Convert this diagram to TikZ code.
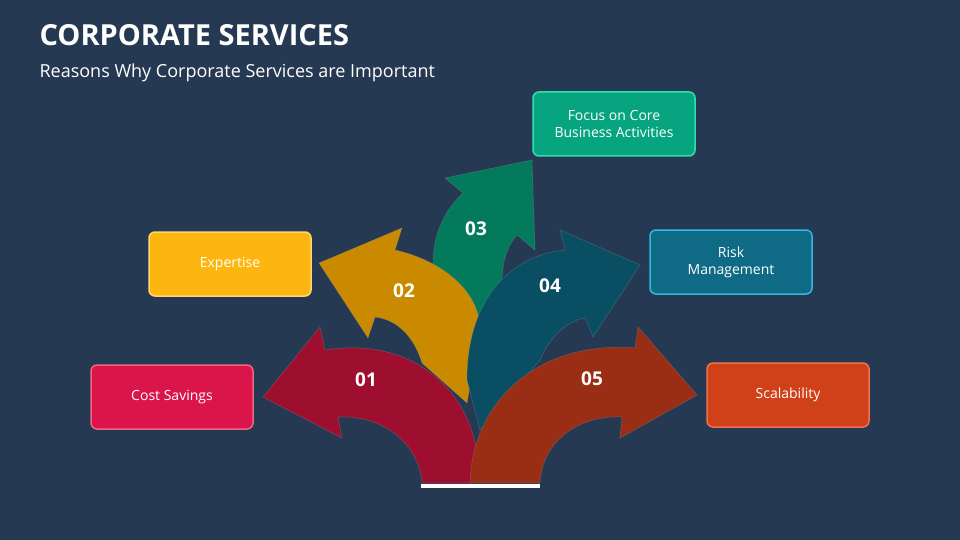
\documentclass[tikz,border=0pt]{standalone}
\usepackage{fontspec}
\setmainfont{Open Sans}
\begin{document}
\begin{tikzpicture}[x=1pt,y=-1pt,
  box/.style={draw,line width=1.5pt,rounded corners=6pt,minimum width=162pt,minimum height=64pt,text=white,align=center,font=\fontsize{14}{17}\selectfont},
  num/.style={text=white,font=\bfseries\fontsize{19}{20}\selectfont},
  arr/.style={draw=black!40,draw opacity=0.3,line width=0.6pt}]
\definecolor{bg}{HTML}{253A52}
\fill[bg] (0,0) rectangle (960,540);
\useasboundingbox (0,0) rectangle (960,540);
\node[anchor=west,text=white,font=\bfseries\fontsize{29}{30}\selectfont] (title) at (36,35) {CORPORATE SERVICES};
\node[anchor=west,text=white,font=\fontsize{18}{20}\selectfont] (sub) at (36,73) {Reasons Why Corporate Services are Important};
% arrows
\fill[arr,fill={rgb,255:red,3;green,122;blue,92}] (532,160) -- (445,178) -- (463,193) .. controls (440,215) and (433,240) .. (433,265) -- (480,320) -- (502,283) .. controls (502,260) and (508,245) .. (517,235) -- (535,250) -- cycle;
\fill[arr,fill={rgb,255:red,201;green,138;blue,0}] (319,263) -- (402,228) -- (395,250) .. controls (440,260) and (480,290) .. (480,330) -- (467,403) -- (422,363) .. controls (415,340) and (400,320) .. (375,317) -- (368,338) -- cycle;
\fill[arr,fill={rgb,255:red,10;green,78;blue,99}] (640,265) -- (560,230) -- (565,250) .. controls (510,255) and (467,300) .. (467,380) -- (480,430) -- (540,360) .. controls (550,335) and (570,320) .. (585,318) -- (593,337) -- cycle;
\fill[arr,fill={rgb,255:red,158;green,14;blue,47}] (263,397) -- (320,327) -- (325,350) .. controls (420,335) and (478,400) .. (478,470) -- (472,483) -- (422,483) .. controls (420,450) and (390,415) .. (338,417) -- (342,438) -- cycle;
\fill[arr,fill={rgb,255:red,153;green,46;blue,21}] (697,395) -- (638,327) -- (635,348) .. controls (540,340) and (472,400) .. (470,483) -- (540,483) .. controls (542,440) and (580,415) .. (622,417) -- (620,438) -- cycle;
\coordinate (b1) at (421,486); \coordinate (b2) at (540,486);
\draw[white,line width=4pt] (b1) -- (b2);
\node[num] (n1) at (366,380) {01};
\node[num] (n2) at (404,291) {02};
\node[num] (n3) at (476,229) {03};
\node[num] (n4) at (550,286) {04};
\node[num] (n5) at (592,379) {05};
% boxes
\node[box,draw={rgb,255:red,240;green,100;blue,130},fill={rgb,255:red,217;green,21;blue,74}] (c) at (172,397) {Cost Savings};
\node[box,draw={rgb,255:red,255;green,215;blue,110},fill={rgb,255:red,253;green,182;blue,16}] (e) at (230,264) {Expertise};
\node[box,draw={rgb,255:red,46;green,224;blue,176},fill={rgb,255:red,6;green,165;blue,127}] (f) at (614,124) {Focus on Core\\Business Activities};
\node[box,draw={rgb,255:red,53;green,184;blue,224},fill={rgb,255:red,14;green,106;blue,133}] (r) at (731,262) {Risk\\Management};
\node[box,draw={rgb,255:red,240;green,112;blue,80},fill={rgb,255:red,208;green,64;blue,25}] (s) at (788,395) {Scalability};
\end{tikzpicture}
\end{document}
